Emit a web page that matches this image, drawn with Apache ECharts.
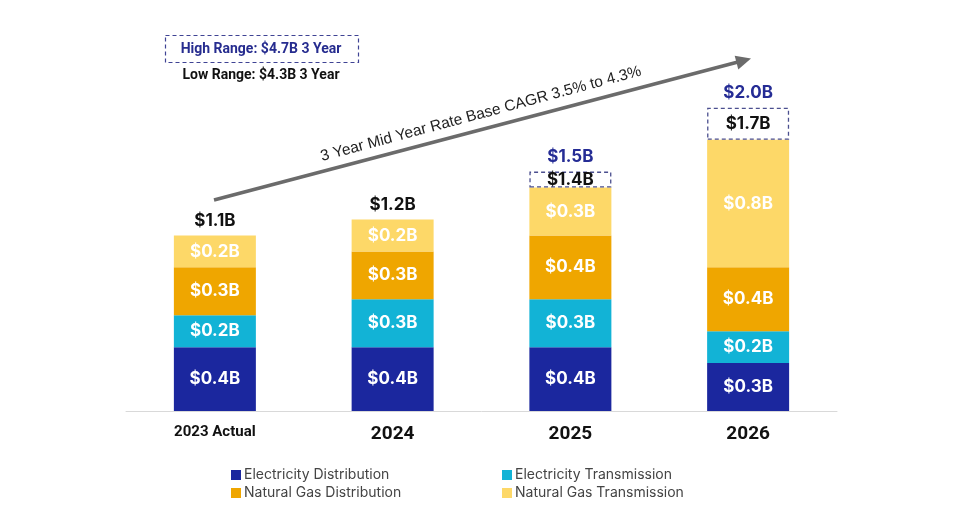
<!DOCTYPE html>
<html>
<head>
<meta charset="utf-8">
<script src="https://cdn.jsdelivr.net/npm/echarts@6/dist/echarts.min.js"></script>
<style>html,body{margin:0;padding:0;background:#fff}#c{width:967px;height:506px}</style>
</head>
<body>
<div id="c"></div>
<script>
const categories = ['2023 Actual', '2024', '2025', '2026'];
const elecDist = [0.4, 0.4, 0.4, 0.3];
const elecTrans = [0.2, 0.3, 0.3, 0.2];
const gasDist = [0.3, 0.3, 0.4, 0.4];
const gasTrans = [0.2, 0.2, 0.3, 0.8];
const totals = [1.1, 1.2, 1.4, 1.7];
const rangeGap = [null, null, 0.1, 0.2];
const highTotals = [null, null, 1.5, 2.0];
const highLabels = [null, null, '$1.5B', '$2.0B'];

const colors = {
  ed: '#1b279e', et: '#12b3d6', gd: '#efa600', gt: '#fdd868'
};
const FONT = 'Inter, "Noto Sans", sans-serif';

function barLabel() {
  return {
    show: true, position: 'inside', color: '#fff', fontFamily: FONT,
    fontWeight: 'bold', fontSize: 17,
    formatter: p => '$' + p.value.toFixed(1) + 'B'
  };
}
function stackSeries(name, data, color) {
  return {
    name, type: 'bar', stack: 'total', data, barWidth: 82,
    itemStyle: { color }, label: barLabel(), emphasis: { disabled: true }
  };
}

const chart = echarts.init(document.getElementById('c'), null, { renderer: 'canvas' });
chart.setOption({
  animation: false,
  grid: { left: 126, right: 130, top: 12, bottom: 95 },
  xAxis: {
    type: 'category', data: categories,
    axisLine: { show: true, lineStyle: { color: '#d9d9d9', width: 1 } },
    axisTick: { show: false },
    axisLabel: {
      margin: 14, color: '#111',
      formatter: v => v.indexOf('Actual') >= 0 ? '{a|' + v + '}' : '{b|' + v + '}',
      rich: {
        a: { fontFamily: 'Roboto, sans-serif', fontWeight: 'bold', fontSize: 15, color: '#111', padding: [0, 0, 6, 0] },
        b: { fontFamily: 'Roboto, sans-serif', fontWeight: 'bold', fontSize: 19, color: '#111' }
      }
    }
  },
  yAxis: { type: 'value', min: 0, max: 2.5, show: false, splitLine: { show: false } },
  legend: [
    {
      orient: 'vertical', left: 226, top: 463, itemGap: 4, itemWidth: 10, itemHeight: 10, icon: 'rect',
      textStyle: { fontFamily: FONT, fontSize: 14, color: '#444', padding: [0, 0, 0, -2] },
      data: ['Electricity Distribution', 'Natural Gas Distribution']
    },
    {
      orient: 'vertical', left: 497, top: 463, itemGap: 4, itemWidth: 10, itemHeight: 10, icon: 'rect',
      textStyle: { fontFamily: FONT, fontSize: 14, color: '#444', padding: [0, 0, 0, -2] },
      data: ['Electricity Transmission', 'Natural Gas Transmission']
    }
  ],
  series: [
    stackSeries('Electricity Distribution', elecDist, colors.ed),
    stackSeries('Electricity Transmission', elecTrans, colors.et),
    stackSeries('Natural Gas Distribution', gasDist, colors.gd),
    stackSeries('Natural Gas Transmission', gasTrans, colors.gt),
    {
      name: 'range', type: 'bar', stack: 'total', data: rangeGap, barWidth: 82,
      itemStyle: { color: 'rgba(0,0,0,0)', borderColor: '#4b4f8f', borderWidth: 1.3, borderType: [4, 3] },
      label: {
        show: true, position: 'inside', color: '#111', fontFamily: FONT, fontWeight: 'bold', fontSize: 17,
        formatter: p => '$' + totals[p.dataIndex].toFixed(1) + 'B'
      },
      emphasis: { disabled: true }
    },
    {
      name: 'totals', type: 'scatter', symbolSize: 1, itemStyle: { color: 'rgba(0,0,0,0)', opacity: 1 },
      data: totals.map((t, i) => rangeGap[i] == null ? [i, t] : null).filter(d => d),
      label: {
        show: true, position: 'top', distance: 6, color: '#111', fontFamily: FONT, fontWeight: 'bold', fontSize: 17,
        formatter: p => '$' + p.value[1].toFixed(1) + 'B'
      },
      emphasis: { disabled: true }
    },
    {
      name: 'high', type: 'scatter', symbolSize: 1, itemStyle: { color: 'rgba(0,0,0,0)', opacity: 1 },
      data: highTotals.map((h, i) => h == null ? null : [i, totals[i] + rangeGap[i], highLabels[i]]).filter(d => d),
      label: {
        show: true, position: 'top', distance: 6, color: '#252c95', fontFamily: FONT, fontWeight: 'bold', fontSize: 17,
        formatter: p => p.value[2]
      },
      emphasis: { disabled: true }
    }
  ],
  graphic: [
    { type: 'line', shape: { x1: 214, y1: 200, x2: 738, y2: 62 }, style: { stroke: '#6b6b6b', lineWidth: 3.5 } },
    { type: 'polygon', shape: { points: [[751, 58.5], [738.3, 69.4], [734.7, 55.8]] }, style: { fill: '#6b6b6b' } },
    {
      type: 'text', x: 481, y: 114, rotation: 0.262,
      style: { text: '3 Year Mid Year Rate Base CAGR 3.5% to 4.3%', font: '15.5px "Liberation Sans", Arial, sans-serif', fill: '#222', align: 'center', verticalAlign: 'middle' }
    },
    { type: 'rect', shape: { x: 165.5, y: 35.5, width: 193, height: 27 }, style: { fill: 'none', stroke: '#3f4394', lineWidth: 1.2, lineDash: [4, 3] } },
    {
      type: 'text', x: 261, y: 49,
      style: { text: 'High Range: $4.7B 3 Year', font: 'bold 14px Roboto, sans-serif', fill: '#262c8f', align: 'center', verticalAlign: 'middle' }
    },
    {
      type: 'text', x: 261, y: 75,
      style: { text: 'Low Range: $4.3B 3 Year', font: 'bold 14px Roboto, sans-serif', fill: '#111', align: 'center', verticalAlign: 'middle' }
    }
  ]
});
</script>
</body>
</html>
